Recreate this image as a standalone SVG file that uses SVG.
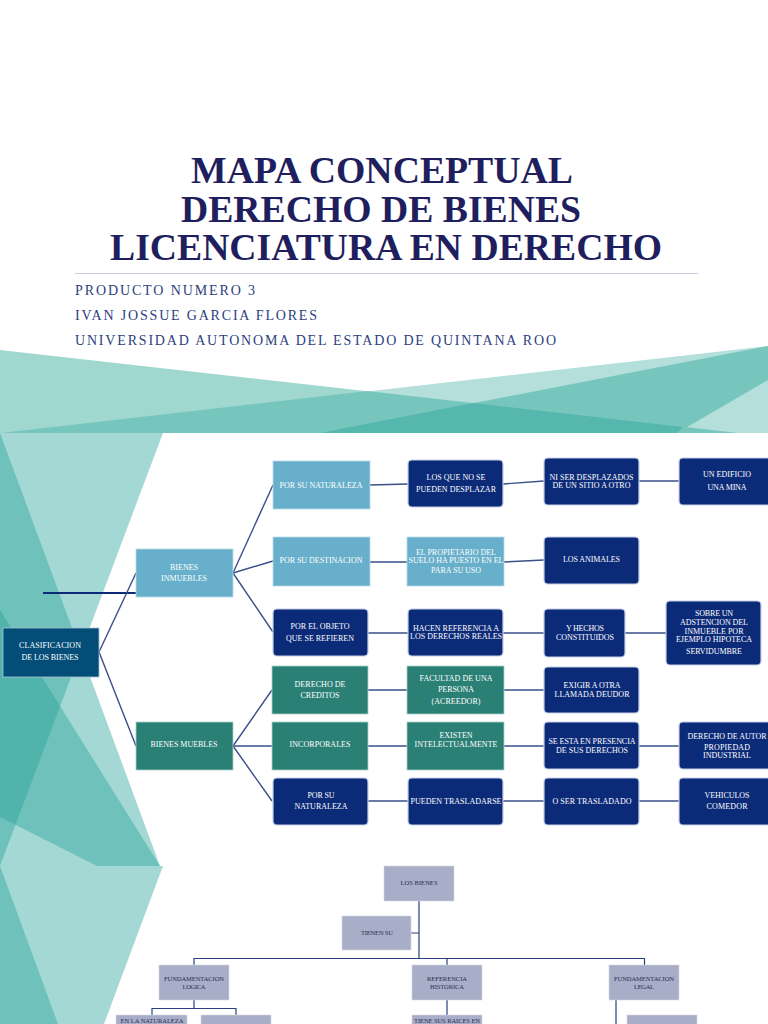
<svg xmlns="http://www.w3.org/2000/svg" width="768" height="1024" viewBox="0 0 768 1024">
<style>
text{font-family:"Liberation Serif","Times New Roman",serif}
.t{font-weight:700;font-size:38px;fill:#1f1f5f;text-anchor:middle}
.s{font-size:14px;fill:#2c4080}
.w{font-size:8px;fill:#fff;text-anchor:middle}
.d{font-size:6.5px;fill:#2a2d55;text-anchor:middle}
.lb{fill:#67afca;stroke:#b9dbe8;stroke-width:.8}
.gr{fill:#2b8076;stroke:#a9cfc9;stroke-width:.8}
.nv{fill:#0b2a78;stroke:#c5cfe6;stroke-width:1.2}
.dt{fill:#034d78;stroke:#a9c3d3;stroke-width:.8}
.gy{fill:#a9aec8;stroke:#d5d7e4;stroke-width:.6}
.tl{fill:#26a398;fill-opacity:.42}
#connectors line,#connectors path{stroke:#3a4f8a;stroke-width:1.4;fill:none}
#connectors .thick{stroke:#0b2a78;stroke-width:2}
#connectors .o{stroke:#2a3f80;stroke-width:1.2}
</style>
<rect width="768" height="1024" fill="#fff"/>
<g id="background">
<polygon points="0,350 738,433 0,433" fill="#a0d8d0"/>
<polygon points="0,433 768,346 768,433" fill="#b5dfda"/>
<polygon points="0,433 367,391 738,433" fill="#77c6bd"/>
<polygon points="768,346 768,380 677,433 320,433" fill="#77c6bd"/>
<polygon points="473,403 683,427 677,433 320,433" fill="#55b7ae"/>
<polygon class="tl" points="0,433 163,433 0,866"/>
<polygon class="tl" points="0,433 160,866 0,866"/>
<polygon class="tl" points="0,610 160,866 97,866 0,817"/>
<polygon class="tl" points="0,866 163,866 104,1024 0,1024"/>
<polygon class="tl" points="0,866 58,1024 0,1024"/>
</g>
<g id="title">
<text class="t" x="382" y="183" textLength="382" lengthAdjust="spacingAndGlyphs">MAPA CONCEPTUAL</text>
<text class="t" x="381" y="222" textLength="400" lengthAdjust="spacingAndGlyphs">DERECHO DE BIENES</text>
<text class="t" x="386" y="260" textLength="552" lengthAdjust="spacingAndGlyphs">LICENCIATURA EN DERECHO</text>
<line x1="75" y1="273.500" x2="698" y2="273.500" stroke="#c8cde0" stroke-width="1"/>
<text class="s" x="75" y="295" textLength="180">PRODUCTO NUMERO 3</text>
<text class="s" x="75" y="320" textLength="242">IVAN JOSSUE GARCIA FLORES</text>
<text class="s" x="75" y="345" textLength="481">UNIVERSIDAD AUTONOMA DEL ESTADO DE QUINTANA ROO</text>
</g>
<g id="connectors">
<line class="thick" x1="43" y1="593" x2="136" y2="593"/>
<line x1="99" y1="652" x2="136" y2="573"/>
<line x1="99" y1="652" x2="136" y2="746"/>
<line x1="233" y1="573" x2="273" y2="485"/>
<line x1="233" y1="573" x2="273" y2="561"/>
<line x1="233" y1="573" x2="273" y2="632"/>
<line x1="233" y1="746" x2="272" y2="690"/>
<line x1="233" y1="746" x2="272" y2="746"/>
<line x1="233" y1="746" x2="272" y2="801"/>
<line x1="370" y1="485" x2="408" y2="484"/>
<line x1="503" y1="484" x2="544" y2="481"/>
<line x1="639" y1="481" x2="679" y2="481"/>
<line x1="370" y1="562" x2="407" y2="562"/>
<line x1="504" y1="562" x2="544" y2="560"/>
<line x1="368" y1="633" x2="408" y2="633"/>
<line x1="503" y1="633" x2="544" y2="633"/>
<line x1="625" y1="633" x2="666" y2="633"/>
<line x1="368" y1="690" x2="407" y2="690"/>
<line x1="504" y1="690" x2="544" y2="690"/>
<line x1="368" y1="746" x2="407" y2="746"/>
<line x1="504" y1="746" x2="544" y2="746"/>
<line x1="639" y1="746" x2="679" y2="746"/>
<line x1="368" y1="801" x2="408" y2="801"/>
<line x1="503" y1="801" x2="544" y2="801"/>
<line x1="639" y1="801" x2="679" y2="801"/>
<path class="o" d="M419 901V958M411 933H419M194 965V958.500H644.500V965M447 958V965M194 1000V1008M152 1015V1008.500H236V1015M447 1000V1015M616 1000V1024"/>
</g>
<g id="n-clasificacion"><rect class="dt" x="3" y="628" width="96" height="49"/><text class="w" x="50" y="648" textLength="62">CLASIFICACION</text><text class="w" x="50" y="660" textLength="57">DE LOS BIENES</text></g>
<g id="n-inmuebles"><rect class="lb" x="136" y="549" width="97" height="48"/><text class="w" x="184" y="570" textLength="28">BIENES</text><text class="w" x="184" y="581" textLength="46">INMUEBLES</text></g>
<g id="n-muebles"><rect class="gr" x="136" y="722" width="97" height="48"/><text class="w" x="184" y="747" textLength="67">BIENES MUEBLES</text></g>
<g id="n-naturaleza"><rect class="lb" x="273" y="461" width="97" height="48"/><text class="w" x="321" y="488" textLength="83">POR SU NATURALEZA</text></g>
<g id="n-destinacion"><rect class="lb" x="273" y="537" width="97" height="49"/><text class="w" x="321" y="563" textLength="83">POR SU DESTINACION</text></g>
<g id="n-objeto"><rect class="nv" x="273" y="609" width="95" height="47" rx="4"/><text class="w" x="320" y="629" textLength="59">POR EL OBJETO</text><text class="w" x="320" y="641" textLength="68">QUE SE REFIEREN</text></g>
<g id="n-creditos"><rect class="gr" x="272" y="666" width="96" height="48"/><text class="w" x="320" y="687" textLength="51">DERECHO DE</text><text class="w" x="320" y="698" textLength="39">CREDITOS</text></g>
<g id="n-incorporales"><rect class="gr" x="272" y="722" width="96" height="48"/><text class="w" x="320" y="747" textLength="61">INCORPORALES</text></g>
<g id="n-naturaleza2"><rect class="nv" x="273" y="778" width="95" height="47" rx="4"/><text class="w" x="321" y="798" textLength="27">POR SU</text><text class="w" x="321" y="809" textLength="53">NATURALEZA</text></g>
<g id="n-nosepueden"><rect class="nv" x="408" y="460" width="95" height="47" rx="4"/><text class="w" x="456" y="480" textLength="59">LOS QUE NO SE</text><text class="w" x="456" y="492" textLength="80">PUEDEN DESPLAZAR</text></g>
<g id="n-propietario"><rect class="lb" x="407" y="537" width="97" height="49"/><text class="w" x="456" y="555" textLength="80">EL PROPIETARIO DEL</text><text class="w" x="456" y="563" textLength="95">SUELO HA PUESTO EN EL</text><text class="w" x="456" y="573" textLength="50">PARA SU USO</text></g>
<g id="n-hacen"><rect class="nv" x="408" y="609" width="95" height="47" rx="4"/><text class="w" x="456" y="631" textLength="86">HACEN REFERENCIA A</text><text class="w" x="456" y="639" textLength="92">LOS DERECHOS REALES</text></g>
<g id="n-facultad"><rect class="gr" x="407" y="666" width="97" height="48"/><text class="w" x="456" y="681" textLength="73">FACULTAD DE UNA</text><text class="w" x="456" y="692" textLength="36">PERSONA</text><text class="w" x="456" y="704" textLength="49">(ACREEDOR)</text></g>
<g id="n-existen"><rect class="gr" x="407" y="722" width="97" height="48"/><text class="w" x="456" y="738" textLength="33">EXISTEN</text><text class="w" x="456" y="747" textLength="83">INTELECTUALMENTE</text></g>
<g id="n-pueden"><rect class="nv" x="408" y="778" width="95" height="47" rx="4"/><text class="w" x="456" y="804" textLength="91">PUEDEN TRASLADARSE</text></g>
<g id="n-niser"><rect class="nv" x="544" y="458" width="95" height="47" rx="4"/><text class="w" x="591.500" y="480" textLength="84">NI SER DESPLAZADOS</text><text class="w" x="591.500" y="488" textLength="78">DE UN SITIO A OTRO</text></g>
<g id="n-animales"><rect class="nv" x="544" y="537" width="95" height="47" rx="4"/><text class="w" x="591.500" y="562" textLength="57">LOS ANIMALES</text></g>
<g id="n-hechos"><rect class="nv" x="544" y="609" width="81" height="48" rx="4"/><text class="w" x="585" y="631" textLength="38">Y HECHOS</text><text class="w" x="585" y="639.500" textLength="58">CONSTITUIDOS</text></g>
<g id="n-exigir"><rect class="nv" x="544" y="667" width="95" height="46" rx="4"/><text class="w" x="592" y="688" textLength="57">EXIGIR A OTRA</text><text class="w" x="592" y="697" textLength="75">LLAMADA DEUDOR</text></g>
<g id="n-seesta"><rect class="nv" x="544" y="722" width="95" height="47" rx="4"/><text class="w" x="592" y="744" textLength="87">SE ESTA EN PRESENCIA</text><text class="w" x="592" y="753" textLength="72">DE SUS DERECHOS</text></g>
<g id="n-oser"><rect class="nv" x="544" y="778" width="95" height="47" rx="4"/><text class="w" x="592" y="804" textLength="79">O SER TRASLADADO</text></g>
<g id="n-edificio"><rect class="nv" x="679" y="458" width="95" height="47" rx="4"/><text class="w" x="727" y="477" textLength="48">UN EDIFICIO</text><text class="w" x="727" y="490" textLength="39">UNA MINA</text></g>
<g id="n-sobre"><rect class="nv" x="666" y="601" width="95" height="64" rx="4"/><text class="w" x="714" y="616" textLength="38">SOBRE UN</text><text class="w" x="714" y="625" textLength="68">ADSTENCION DEL</text><text class="w" x="714" y="634" textLength="59">INMUEBLE POR</text><text class="w" x="714" y="642" textLength="76">EJEMPLO HIPOTECA</text><text class="w" x="714" y="654" textLength="56">SERVIDUMBRE</text></g>
<g id="n-autor"><rect class="nv" x="679" y="722" width="95" height="47" rx="4"/><text class="w" x="727" y="739" textLength="79">DERECHO DE AUTOR</text><text class="w" x="727" y="750" textLength="46">PROPIEDAD</text><text class="w" x="727" y="758" textLength="48">INDUSTRIAL</text></g>
<g id="n-vehiculos"><rect class="nv" x="679" y="778" width="95" height="47" rx="4"/><text class="w" x="727" y="798" textLength="45">VEHICULOS</text><text class="w" x="727" y="809" textLength="41">COMEDOR</text></g>
<g id="n-losbienes"><rect class="gy" x="384" y="866" width="70" height="35"/><text class="d" x="419" y="885" textLength="37">LOS BIENES</text></g>
<g id="n-tienensu"><rect class="gy" x="342" y="916" width="69" height="34"/><text class="d" x="377" y="935" textLength="32">TIENEN SU</text></g>
<g id="n-logica"><rect class="gy" x="159" y="965" width="70" height="35"/><text class="d" x="194" y="981" textLength="60">FUNDAMENTACION</text><text class="d" x="194" y="988.500" textLength="23">LOGICA</text></g>
<g id="n-historica"><rect class="gy" x="412" y="965" width="70" height="35"/><text class="d" x="447" y="981" textLength="40">REFERENCIA</text><text class="d" x="447" y="988.500" textLength="34">HISTORICA</text></g>
<g id="n-legal"><rect class="gy" x="609" y="965" width="70" height="35"/><text class="d" x="644" y="981" textLength="60">FUNDAMENTACION</text><text class="d" x="644" y="988.500" textLength="20">LEGAL</text></g>
<g id="n-enlanaturaleza"><rect class="gy" x="116" y="1015" width="71" height="12"/><text class="d" x="152" y="1023" textLength="63">EN LA NATURALEZA</text></g>
<g id="n-blank"><rect class="gy" x="201" y="1015" width="70" height="12"/></g>
<g id="n-raices"><rect class="gy" x="412" y="1015" width="70" height="12"/><text class="d" x="447" y="1023" textLength="66">TIENE SUS RAICES EN</text></g>
<g id="n-blank2"><rect class="gy" x="627" y="1015" width="70" height="12"/></g>
</svg>
